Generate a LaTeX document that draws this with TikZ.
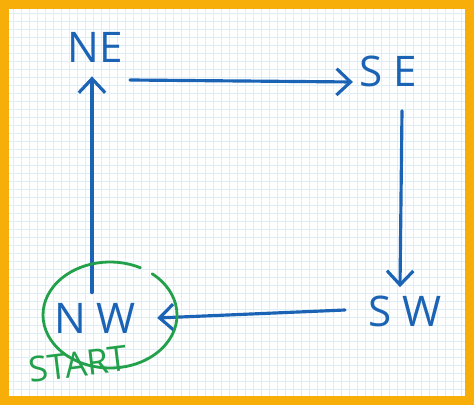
\documentclass[tikz,border=0pt]{standalone}
\usepackage{fontspec}
\setmainfont{Open Sans}
\usepackage{xcolor}
\usetikzlibrary{arrows.meta,calc}
\definecolor{PadOrange}{HTML}{F7AE08}
\definecolor{PadGrid}{HTML}{DDEEF7}
\definecolor{InkBlue}{HTML}{1A63B5}
\definecolor{InkGreen}{HTML}{22A04A}
\tikzset{
  corner/.style={text=InkBlue,font=\fontsize{24}{28}\selectfont,inner sep=0pt},
  pen/.style={InkBlue,line width=1.8pt,line cap=round,line join=round},
  tip/.style={-{Straight Barb[length=8pt,width=15pt,line width=1.8pt]}},
  marker/.style={InkGreen,line width=1.6pt,line cap=round}
}

\begin{document}
\begin{tikzpicture}[x=0.02cm,y=-0.02cm]
\path[use as bounding box] (0,0) rectangle (474,405);
% paper and frame
\fill[PadOrange] (0,0) rectangle (474,405);
\fill[white] (9,9) rectangle (465,396);
\foreach \gx in {13,21,...,461} \draw[PadGrid,line width=0.3pt] (\gx,9) -- (\gx,396);
\foreach \gy in {13,21,...,393} \draw[PadGrid,line width=0.3pt] (9,\gy) -- (465,\gy);
% corners
\node[corner] (ne) at (95,47) {NE};
\node[corner] (se) at (388,71) {S E};
\node[corner] (sw) at (405,311) {S W};
\node[corner] (nw) at (95,318) {N W};
\node[text=InkGreen,font=\fontsize{20}{22}\selectfont,rotate=7,inner sep=0pt] (start) at (78,364) {START};
% edges
\draw[pen,tip] ($(nw.north)+(-3,-10)$) -- ($(ne.south)+(-3,14)$);
\draw[pen,tip] ($(ne.east)+(7,33)$) -- ($(se.west)+(-6,11)$);
\draw[pen,tip] ($(se.south)+(14,24)$) -- ($(sw.north)+(-5,-8)$);
\draw[pen,tip] ($(sw.west)+(-23,-1)$) -- ($(nw.east)+(21,0)$);
% start mark
\draw[marker] ($(nw.center)+(15,-3)$) ++(-51:67 and 53) arc[start angle=-51,end angle=297,x radius=67,y radius=53];
\end{tikzpicture}
\end{document}
